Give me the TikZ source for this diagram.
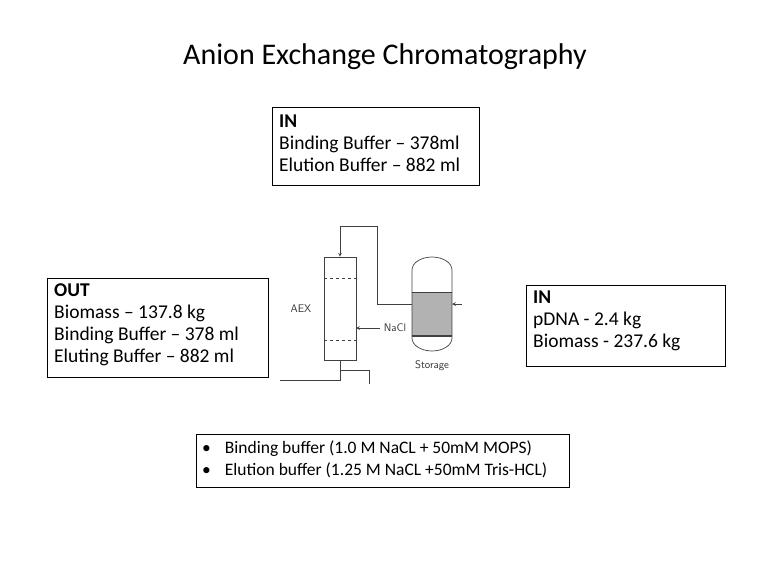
\documentclass[tikz,border=0pt]{standalone}
\usepackage{fontspec}
\setmainfont{Carlito}
\begin{document}
\begin{tikzpicture}[x=1pt,y=-1pt,
 box/.style={draw=none,align=left,anchor=north west,font=\fontsize{19.5}{22}\selectfont,inner sep=0pt},
 pipe/.style={line width=0.7pt,draw=black!75},
 lbl/.style={font=\sffamily\fontsize{11}{12}\selectfont,text=black!80}]
\useasboundingbox (0,0) rectangle (768,576);
\node (title) at (385,57) {\fontsize{30}{34}\selectfont Anion Exchange Chromatography};
\draw[line width=0.8pt] (272,107) rectangle (479,185);
\node[box] (in1) at (279,115) {\textbf{IN}\\Binding Buffer -- 378ml\\Elution Buffer -- 882 ml};
\draw[line width=0.8pt] (47,278) rectangle (268,377);
\node[box] (out) at (54,284) {\textbf{OUT}\\Biomass -- 137.8 kg\\Binding Buffer -- 378 ml\\Eluting Buffer -- 882 ml};
\draw[line width=0.8pt] (526,285) rectangle (725,366);
\node[box] (in2) at (533,291) {\textbf{IN}\\pDNA - 2.4 kg\\Biomass - 237.6 kg};
\draw[line width=0.8pt] (196,434) rectangle (569,487);
\node[box,font=\fontsize{17.5}{22}\selectfont] (buf) at (202,440) {\textbullet\hspace{14pt}Binding buffer (1.0 M NaCL + 50mM MOPS)\\\textbullet\hspace{14pt}Elution buffer (1.25 M NaCL +50mM Tris-HCL)};
% column
\node[draw=black!75,line width=0.7pt,minimum width=32pt,minimum height=103pt,inner sep=0pt] (col) at (340,308.5) {};
\draw[dashed,pipe,line width=0.5pt] (324,278) -- (356,278) (324,340) -- (356,340);
\node[lbl] (aex) at (301,309) {AEX};
% tank
\fill[black!30] (412,292) rectangle (452,336);
\draw[pipe] (412,270) arc[start angle=180,end angle=0,x radius=20pt,y radius=13pt] -- (452,338) arc[start angle=0,end angle=-180,x radius=20pt,y radius=13pt] -- cycle;
\draw[pipe] (412,292) -- (452,292);
\draw[line width=1.5pt,black!75] (412,336) -- (452,336);
\coordinate (tank) at (412,304);
\node[lbl] (stor) at (432,366) {Storage};
\coordinate (c1) at (340,226); \coordinate (c2) at (377,226); \coordinate (c3) at (377,304);
\draw[pipe,-stealth] (tank) -- (c3) -- (c2) -- (c1) -- (col.north);
\coordinate (fin) at (462,304);
\draw[pipe,-stealth] (fin) -- (452,304);
\node[lbl] (nacl) at (395,328) {NaCl};
\draw[pipe,-stealth] (nacl.west) -- (356,328);
\coordinate (b1) at (340,380); \coordinate (b0) at (280,380);
\draw[pipe] (col.south) -- (b1) -- (b0);
\coordinate (d1) at (340,370); \coordinate (d2) at (369,370); \coordinate (d3) at (369,384);
\draw[pipe] (d1) -- (d2) -- (d3);
\end{tikzpicture}
\end{document}
